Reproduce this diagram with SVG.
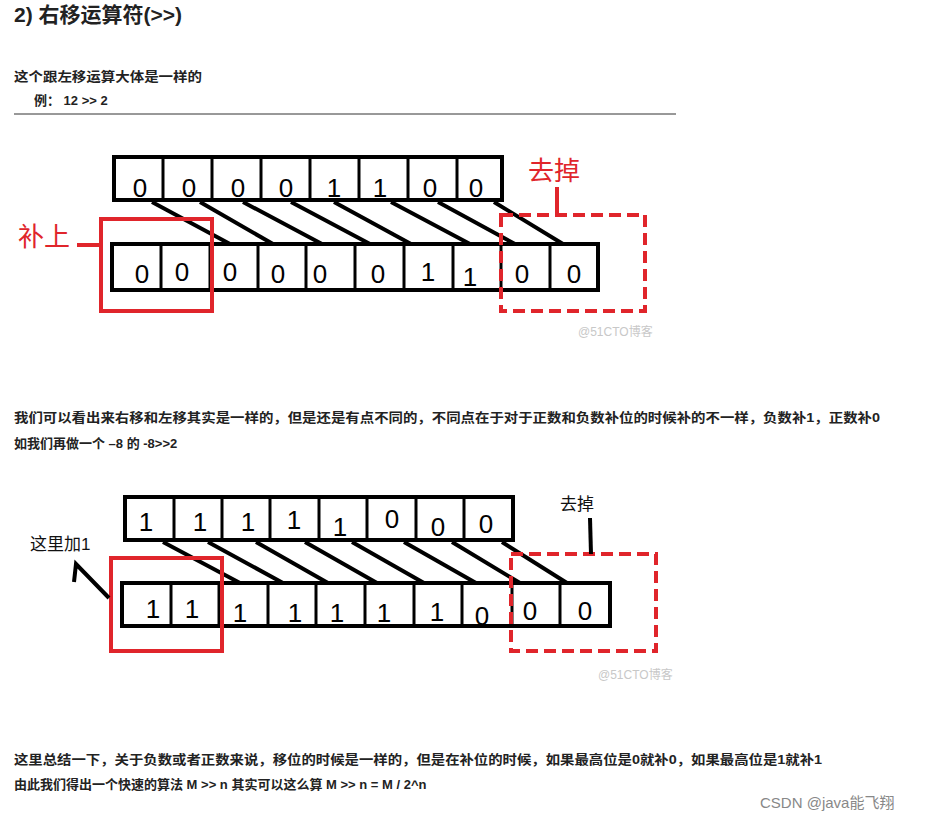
<svg xmlns="http://www.w3.org/2000/svg" width="946" height="821" viewBox="0 0 946 821" xml:space="preserve">
<style>
.t{font-family:"Liberation Sans","Noto Sans CJK SC",sans-serif;font-size:13px;font-weight:bold;fill:#222}
.box{fill:#fff;stroke:#000;stroke-width:4}
.dv{stroke:#000;stroke-width:3}
.d{font-family:"Liberation Sans",sans-serif;font-size:26px;fill:#000;text-anchor:middle}
.sl{stroke:#000;stroke-width:4;fill:none}
.red{stroke:#e0252b;stroke-width:4;fill:none}
.dash{stroke:#e0252b;stroke-width:4;fill:none;stroke-dasharray:12 6}
.wm{font-family:"Liberation Sans","Noto Sans CJK SC",sans-serif;font-size:12px;fill:#c8c8c8}
</style>
<rect width="946" height="821" fill="#fff"/>
<text x="14" y="22" font-family="Liberation Sans,Noto Sans CJK SC,sans-serif" font-size="21" font-weight="bold" fill="#222">2) 右移运算符(&gt;&gt;)</text>
<text class="t" x="14" y="81" textLength="188" lengthAdjust="spacingAndGlyphs">这个跟左移运算大体是一样的</text>
<text class="t" x="34" y="105">例：   12 &gt;&gt; 2</text>
<line x1="14" y1="114" x2="676" y2="114" stroke="#333" stroke-width="1"/>
<g id="diagram1">
<rect class="box" x="114" y="157" width="388" height="43"/>
<g class="dv"><line x1="163" y1="157" x2="163" y2="200"/><line x1="212" y1="157" x2="212" y2="200"/><line x1="261" y1="157" x2="261" y2="200"/><line x1="310" y1="157" x2="310" y2="200"/><line x1="359" y1="157" x2="359" y2="200"/><line x1="408" y1="157" x2="408" y2="200"/><line x1="457" y1="157" x2="457" y2="200"/></g>
<g class="d"><text x="140" y="197">0</text><text x="189" y="197">0</text><text x="238" y="197">0</text><text x="286" y="197">0</text><text x="334" y="197">1</text><text x="380" y="197">1</text><text x="430" y="197">0</text><text x="476" y="197">0</text></g>
<g id="connectors1" class="sl"><path d="M152 202L230 244M200 202L273 244M243 202L322 244M291 202L370 244M334 202L411 244M391 202L470 244M438 202L515 244M494 202L563 244"/></g>
<rect class="box" x="112" y="244" width="486" height="46"/>
<g class="dv"><line x1="161" y1="244" x2="161" y2="290"/><line x1="210" y1="244" x2="210" y2="290"/><line x1="258" y1="244" x2="258" y2="290"/><line x1="306" y1="244" x2="306" y2="290"/><line x1="355" y1="244" x2="355" y2="290"/><line x1="404" y1="244" x2="404" y2="290"/><line x1="453" y1="244" x2="453" y2="290"/><line x1="501" y1="244" x2="501" y2="290"/><line x1="550" y1="244" x2="550" y2="290"/></g>
<g class="d"><text x="142" y="283">0</text><text x="182" y="281">0</text><text x="230" y="281">0</text><text x="278" y="283">0</text><text x="320" y="283">0</text><text x="378" y="283">0</text><text x="428" y="281">1</text><text x="470" y="286">1</text><text x="522" y="283">0</text><text x="574" y="283">0</text></g>
<rect class="red" x="101" y="219" width="111" height="92"/>
<line class="red" x1="77" y1="245" x2="101" y2="245"/>
<text x="18" y="246" font-family="Liberation Sans,Noto Sans CJK SC,sans-serif" font-size="26" fill="#e0252b">补上</text>
<rect class="dash" x="501" y="215" width="144" height="96"/>
<line class="red" x1="557" y1="187" x2="557" y2="215"/>
<text x="528" y="180" font-family="Liberation Sans,Noto Sans CJK SC,sans-serif" font-size="26" fill="#e0252b">去掉</text>
<text class="wm" x="578" y="336">@51CTO博客</text>
</g>
<text class="t" x="14" y="422" textLength="866" lengthAdjust="spacingAndGlyphs">我们可以看出来右移和左移其实是一样的，但是还是有点不同的，不同点在于对于正数和负数补位的时候补的不一样，负数补1，正数补0</text>
<text class="t" x="14" y="448">如我们再做一个 –8 的     -8&gt;&gt;2</text>
<g id="diagram2">
<rect class="box" x="125" y="497" width="388" height="43"/>
<g class="dv"><line x1="174" y1="497" x2="174" y2="540"/><line x1="222" y1="497" x2="222" y2="540"/><line x1="270" y1="497" x2="270" y2="540"/><line x1="319" y1="497" x2="319" y2="540"/><line x1="367" y1="497" x2="367" y2="540"/><line x1="416" y1="497" x2="416" y2="540"/><line x1="464" y1="497" x2="464" y2="540"/></g>
<g class="d"><text x="146" y="531">1</text><text x="200" y="531">1</text><text x="248" y="531">1</text><text x="294" y="529">1</text><text x="340" y="536">1</text><text x="392" y="528">0</text><text x="438" y="536">0</text><text x="486" y="533">0</text></g>
<g id="connectors2" class="sl"><path d="M163 542L240 583M208 542L283 583M256 542L328 583M305 542L377 583M352 542L424 583M404 542L476 583M452 542L520 583M502 542L567 583"/></g>
<rect class="box" x="122" y="583" width="488" height="43"/>
<g class="dv"><line x1="171" y1="583" x2="171" y2="626"/><line x1="219" y1="583" x2="219" y2="626"/><line x1="268" y1="583" x2="268" y2="626"/><line x1="316" y1="583" x2="316" y2="626"/><line x1="365" y1="583" x2="365" y2="626"/><line x1="414" y1="583" x2="414" y2="626"/><line x1="462" y1="583" x2="462" y2="626"/><line x1="512" y1="583" x2="512" y2="626"/><line x1="560" y1="583" x2="560" y2="626"/></g>
<g class="d"><text x="153" y="618">1</text><text x="192" y="618">1</text><text x="240" y="622">1</text><text x="295" y="622">1</text><text x="337" y="622">1</text><text x="384" y="622">1</text><text x="437" y="621">1</text><text x="482" y="625">0</text><text x="530" y="620">0</text><text x="585" y="620">0</text></g>
<rect class="red" x="111" y="558" width="111" height="93"/>
<path class="sl" d="M109 598L76 564L74 582"/>
<text x="30" y="550" font-family="Liberation Sans,Noto Sans CJK SC,sans-serif" font-size="17" fill="#111">这里加1</text>
<rect class="dash" x="511" y="554" width="145" height="97"/>
<line class="sl" x1="590" y1="518" x2="591" y2="554"/>
<text x="560" y="510" font-family="Liberation Sans,Noto Sans CJK SC,sans-serif" font-size="17" fill="#111">去掉</text>
<text class="wm" x="598" y="679">@51CTO博客</text>
</g>
<text class="t" x="14" y="764" textLength="808" lengthAdjust="spacingAndGlyphs">这里总结一下，关于负数或者正数来说，移位的时候是一样的，但是在补位的时候，如果最高位是0就补0，如果最高位是1就补1</text>
<text class="t" x="14" y="789">由此我们得出一个快速的算法     M &gt;&gt; n    其实可以这么算    M &gt;&gt; n  = M / 2^n</text>
<text x="760" y="808" font-family="Liberation Sans,Noto Sans CJK SC,sans-serif" font-size="15" fill="#888">CSDN @java能飞翔</text>
</svg>
